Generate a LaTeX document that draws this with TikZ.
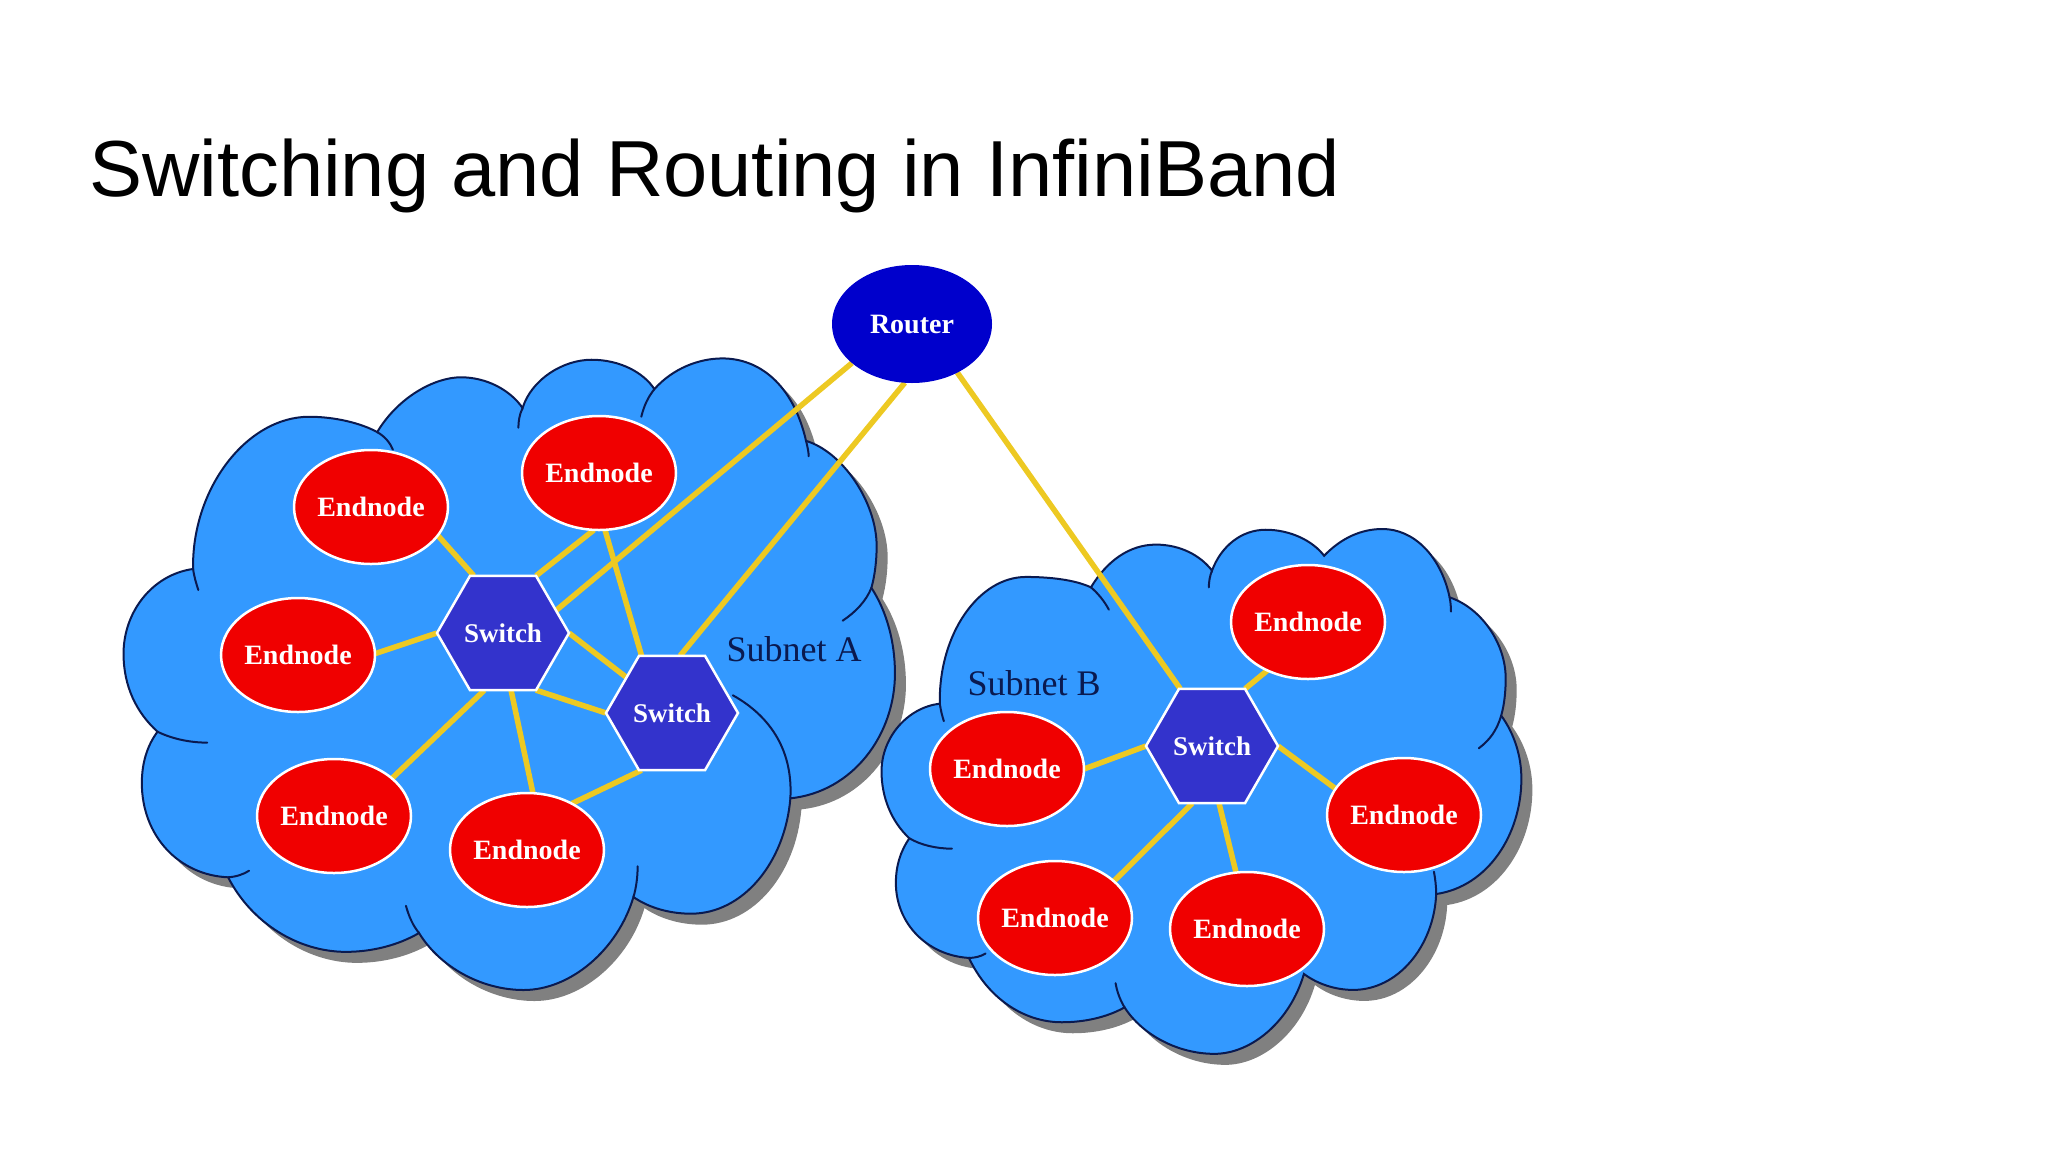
\documentclass[tikz,border=0pt]{standalone}
\usepackage{fontspec}
\setmainfont{Liberation Serif}
\newfontfamily\titlefont{Liberation Sans}
\usetikzlibrary{shapes.geometric}
\definecolor{cloudblue}{HTML}{3399FF}
\definecolor{cloudline}{HTML}{0A1A50}
\definecolor{shadowgray}{HTML}{808080}
\definecolor{endred}{HTML}{F00000}
\definecolor{swblue}{HTML}{3333CC}
\definecolor{routerblue}{HTML}{0000CC}
\definecolor{linkyellow}{HTML}{EDC922}
\pgfdeclarelayer{back}
\pgfsetlayers{back,main}
\def\cloudA{(530,210) .. controls (570,130) and (640,85) .. (690,85) .. controls (740,85) and (785,115) .. (808,155)
 .. controls (825,90) and (885,45) .. (940,45) .. controls (995,45) and (1040,75) .. (1060,112)
 .. controls (1095,65) and (1145,42) .. (1190,42) .. controls (1260,42) and (1325,100) .. (1350,230)
 .. controls (1420,255) and (1485,370) .. (1485,470) .. controls (1485,500) and (1482,535) .. (1475,565)
 .. controls (1505,620) and (1520,690) .. (1520,760) .. controls (1520,900) and (1440,1030) .. (1320,1045)
 .. controls (1310,1190) and (1230,1308) .. (1130,1308) .. controls (1090,1308) and (1050,1295) .. (1020,1270)
 .. controls (990,1390) and (900,1482) .. (810,1482) .. controls (730,1482) and (650,1430) .. (610,1352)
 .. controls (570,1380) and (520,1395) .. (470,1395) .. controls (380,1395) and (290,1330) .. (245,1225)
 .. controls (150,1220) and (80,1130) .. (80,1010) .. controls (80,965) and (90,925) .. (110,893)
 .. controls (70,850) and (45,790) .. (45,715) .. controls (45,620) and (100,535) .. (178,522)
 .. controls (175,340) and (280,175) .. (400,175) .. controls (450,175) and (500,190) .. (530,210) -- cycle}
\def\tailsA{(530,210) .. controls (545,220) and (555,235) .. (560,250)
 (808,155) .. controls (802,170) and (800,185) .. (800,200)
 (1060,112) .. controls (1048,130) and (1040,150) .. (1035,175)
 (1350,230) .. controls (1353,245) and (1355,255) .. (1355,265)
 (1475,565) .. controls (1465,595) and (1445,620) .. (1420,640)
 (1320,1045) .. controls (1325,940) and (1285,860) .. (1210,810)
 (1020,1270) .. controls (1025,1250) and (1028,1225) .. (1028,1200)
 (610,1352) .. controls (598,1335) and (590,1312) .. (585,1290)
 (245,1225) .. controls (260,1224) and (275,1218) .. (285,1210)
 (110,893) .. controls (135,908) and (170,918) .. (205,918)
 (178,522) .. controls (180,540) and (184,555) .. (188,570)}
\def\cloudB{(515,235) .. controls (550,165) and (600,120) .. (660,120) .. controls (715,120) and (760,150) .. (785,190)
 .. controls (805,125) and (850,80) .. (905,80) .. controls (960,80) and (1010,110) .. (1035,150)
 .. controls (1075,100) and (1120,78) .. (1165,78) .. controls (1235,78) and (1295,150) .. (1315,262)
 .. controls (1385,290) and (1440,385) .. (1440,480) .. controls (1440,515) and (1437,550) .. (1430,580)
 .. controls (1460,630) and (1475,690) .. (1475,750) .. controls (1475,900) and (1400,1040) .. (1285,1060)
 .. controls (1280,1200) and (1200,1318) .. (1100,1318) .. controls (1060,1318) and (1020,1302) .. (990,1275)
 .. controls (960,1400) and (875,1490) .. (790,1490) .. controls (710,1490) and (630,1440) .. (590,1365)
 .. controls (550,1392) and (500,1405) .. (450,1405) .. controls (365,1405) and (285,1340) .. (243,1232)
 .. controls (150,1225) and (80,1140) .. (80,1030) .. controls (80,985) and (90,945) .. (110,910)
 .. controls (70,865) and (48,800) .. (48,730) .. controls (48,640) and (105,558) .. (178,548)
 .. controls (175,360) and (265,207) .. (370,207) .. controls (425,207) and (480,215) .. (515,235) -- cycle}
\def\tailsB{(515,235) .. controls (530,250) and (545,272) .. (555,295)
 (785,190) .. controls (780,205) and (778,220) .. (778,235)
 (1315,262) .. controls (1317,275) and (1318,288) .. (1318,300)
 (1430,580) .. controls (1420,620) and (1405,645) .. (1380,668)
 (1285,1060) .. controls (1285,1040) and (1283,1020) .. (1280,1000)
 (590,1365) .. controls (580,1345) and (573,1322) .. (570,1300)
 (243,1232) .. controls (255,1232) and (270,1228) .. (280,1220)
 (110,910) .. controls (135,928) and (170,938) .. (205,938)
 (178,548) .. controls (180,565) and (183,580) .. (187,595)}
\tikzset{
  cloudshadow/.style={fill=shadowgray},
  cloudbody/.style={fill=cloudblue,draw=cloudline,line width=2pt},
  cloudtail/.style={draw=cloudline,line width=2pt,line cap=round},
  endnode/.style={shape=ellipse,fill=endred,draw=white,line width=2.5pt,minimum width=154pt,minimum height=114pt,inner sep=0pt,outer sep=0pt,text=white,font=\fontsize{28}{32}\selectfont\bfseries},
  switchnode/.style={shape=regular polygon,regular polygon sides=6,fill=swblue,draw=white,line width=2.5pt,minimum size=132pt,inner sep=0pt,outer sep=0pt,text=white,font=\fontsize{27}{32}\selectfont\bfseries},
  routernode/.style={shape=ellipse,fill=routerblue,minimum width=160pt,minimum height=118pt,inner sep=0pt,outer sep=0pt,text=white,font=\fontsize{28}{32}\selectfont\bfseries},
  link/.style={draw=linkyellow,line width=5.5pt},
  subnetlabel/.style={text=cloudline,inner sep=0pt,font=\fontsize{36}{40}\selectfont},
  titletext/.style={anchor=base west,inner sep=0pt,font=\titlefont\fontsize{79.5}{96}\selectfont}
}
\begin{document}
\begin{tikzpicture}[x=1pt,y=-1pt]
\useasboundingbox (0,0) rectangle (2048,1152);
\node[titletext] (title) at (89,196) {Switching and Routing in InfiniBand};
% clouds
\begin{pgfonlayer}{back}
\begin{scope}[shift={(111,351)},x=0.523pt,y=-0.4386pt]
  \path[cloudshadow] \cloudA;
\end{scope}
\begin{scope}[shift={(100,340)},x=0.523pt,y=-0.4386pt]
  \path[cloudbody] \cloudA;
  \path[cloudtail] \tailsA;
\end{scope}
\begin{scope}[shift={(871,511)},x=0.4484pt,y=-0.3717pt]
  \path[cloudshadow] \cloudB;
\end{scope}
\begin{scope}[shift={(860,500)},x=0.4484pt,y=-0.3717pt]
  \path[cloudbody] \cloudB;
  \path[cloudtail] \tailsB;
\end{scope}
\end{pgfonlayer}
% nodes
\node[routernode] (router) at (912,324) {Router};
\node[endnode] (ea1) at (371,507) {Endnode};
\node[endnode] (ea2) at (599,473) {Endnode};
\node[endnode] (ea3) at (298,655) {Endnode};
\node[endnode] (ea4) at (334,816) {Endnode};
\node[endnode] (ea5) at (527,850) {Endnode};
\node[switchnode] (swa1) at (503,633) {Switch};
\node[switchnode] (swa2) at (672,713) {Switch};
\node[endnode] (eb1) at (1308,622) {Endnode};
\node[endnode] (eb2) at (1007,769) {Endnode};
\node[endnode] (eb3) at (1404,815) {Endnode};
\node[endnode] (eb4) at (1055,918) {Endnode};
\node[endnode] (eb5) at (1247,929) {Endnode};
\node[switchnode] (swb) at (1212,746) {Switch};
\node[subnetlabel] (suba) at (794,649) {Subnet A};
\node[subnetlabel] (subb) at (1034,683) {Subnet B};
% connectors
\begin{pgfonlayer}{back}
\draw[link] (ea1.-23) -- (swa1.117);
\draw[link] (ea2.265) -- (swa1.60);
\draw[link] (ea2.-84) -- (swa2.118);
\draw[link] (ea3.1) -- (swa1.180);
\draw[link] (swa1.0) -- (swa2.142);
\draw[link] (swa1.-60) -- (swa2.180);
\draw[link] (swa1.252) -- (ea4.33);
\draw[link] (swa1.-82) -- (ea5.84);
\draw[link] (swa2.-118) -- (ea5.46);
\draw[link] (router.213) -- (swa1.23);
\draw[link] (router.263) -- (swa2.82);
\draw[link] (router.-47) -- (swb.119);
\draw[link] (swb.60) -- (eb1.230);
\draw[link] (swb.180) -- (eb2.0);
\draw[link] (swb.0) -- (eb3.159);
\draw[link] (swb.251) -- (eb4.32);
\draw[link] (swb.-83) -- (eb5.101);
\end{pgfonlayer}
\end{tikzpicture}
\end{document}
